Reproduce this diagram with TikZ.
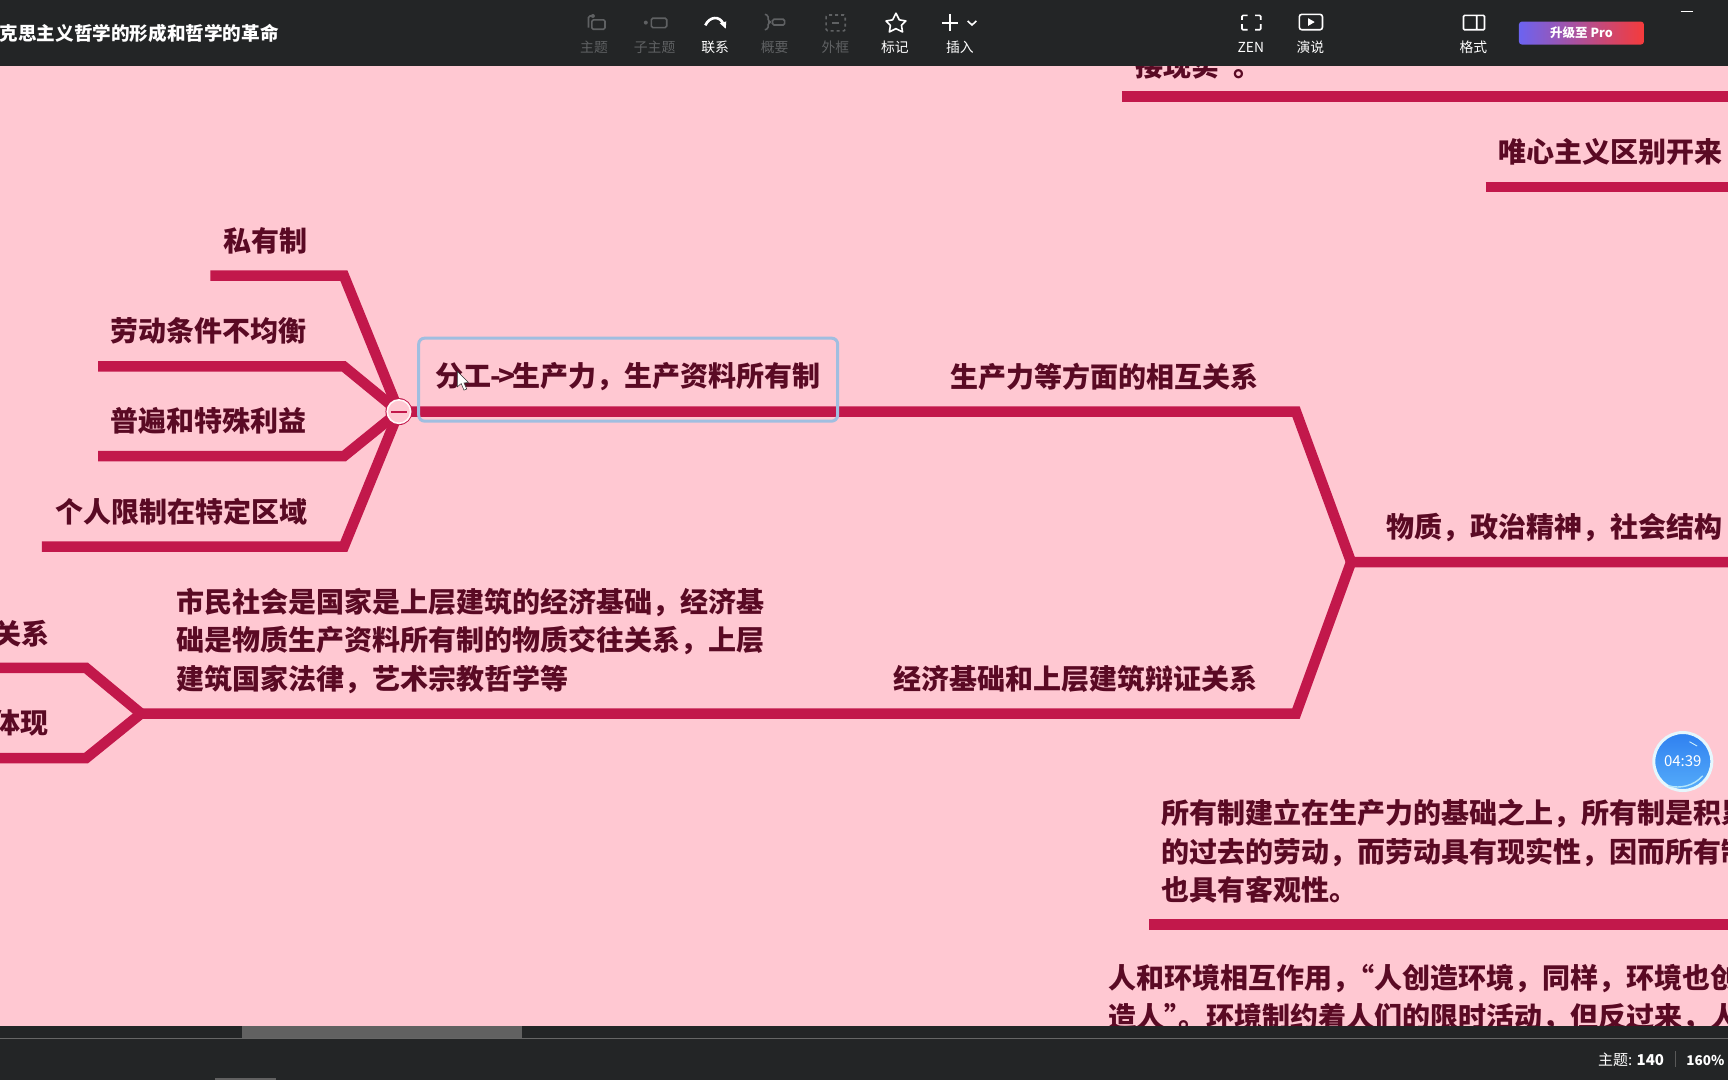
\documentclass[tikz,border=0pt]{standalone}
\usepackage{fontspec}
\setmainfont{Noto Sans CJK SC}
\usepackage{tikz}
\definecolor{bgpink}{HTML}{FFC8D2}
\definecolor{barblack}{HTML}{232526}
\definecolor{branchred}{HTML}{C2184B}
\definecolor{topicdark}{HTML}{5A0A24}
\definecolor{selblue}{HTML}{A0BEE0}
\definecolor{toolgray}{HTML}{5F6163}
\definecolor{timertop}{HTML}{2F80F0}
\definecolor{timerlow}{HTML}{55ACFA}
\definecolor{proleft}{HTML}{6C63F0}
\definecolor{proright}{HTML}{F53B3B}
\begin{document}
\begin{tikzpicture} [x=1.10204pt,y=-1.10204pt]
\tikzstyle{topic}=[inner sep=0pt,anchor=west,align=left,yshift=-.7pt,text=topicdark,font=\fontsize{28}{38.6}\selectfont\bfseries]
\tikzstyle{branch}=[line width=10.5pt,draw=branchred,line join=miter,miter limit=10]
\tikzstyle{toollabel}=[inner sep=0pt,text=white,font=\fontsize{13.8}{16}\selectfont]
\tikzstyle{toolicon}=[line width=1.6pt,draw=white]
\tikzstyle{dimicon}=[line width=1.6pt,draw=toolgray,rounded corners=1.5pt]
\useasboundingbox (0,0) rectangle (1568,980);
\clip (0,0) rectangle (1568,980);
\fill [bgpink] (0,0) rectangle (1568,980);
% junctions
\coordinate (hubA) at (362,373.5);
\coordinate (hubB) at (128,647.5);
\coordinate (hubC) at (1226,510);
\coordinate (bendA) at (1176,373.5);
\coordinate (bendB) at (1176,647.5);
\coordinate (rightA) at (1575,510);
\coordinate (topA) at (1018,87.5);
\coordinate (topB) at (1575,87.5);
\coordinate (secA) at (1348,169.5);
\coordinate (secB) at (1575,169.5);
\coordinate (ownA) at (1043,839);
\coordinate (ownB) at (1575,839);
% left leaves
\coordinate (priv0) at (191,250);
\coordinate (priv1) at (312,250);
\coordinate (cond0) at (89,332.5);
\coordinate (cond1) at (312,332.5);
\coordinate (gene0) at (89,414);
\coordinate (gene1) at (312,414);
\coordinate (pers0) at (38,496);
\coordinate (pers1) at (312,496);
\coordinate (lowA0) at (-10,606);
\coordinate (lowA1) at (78,606);
\coordinate (lowB0) at (-10,688);
\coordinate (lowB1) at (78,688);
\draw [branch] (topA) -- (topB);
\draw [branch] (secA) -- (secB);
\draw [branch] (ownA) -- (ownB);
\draw [branch] (priv0) -- (priv1) -- (hubA);
\draw [branch] (cond0) -- (cond1) -- (hubA);
\draw [branch] (gene0) -- (gene1) -- (hubA);
\draw [branch] (pers0) -- (pers1) -- (hubA);
\draw [branch] (hubA) -- (bendA) -- (hubC) -- (rightA);
\draw [branch] (hubB) -- (bendB) -- (hubC);
\draw [branch] (lowA0) -- (lowA1) -- (hubB);
\draw [branch] (lowB0) -- (lowB1) -- (hubB);
% labels
\node at(1030,59) (realT) [topic]{接现实”\kern-14pt。};
\node at(1360,137) (idealT) [topic]{唯心主义区别开来};
\node at(203,218) (privT) [topic]{私有制};
\node at(100,300) (condT) [topic]{劳动条件不均衡};
\node at(100,381) (geneT) [topic]{普遍和特殊利益};
\node at(50,464) (persT) [topic]{个人限制在特定区域};
\node at(395,341) (laborT) [topic]{分工\kern-1pt-\kern-2.5pt>\kern-3pt 生产力，生产资料所有制};
\node at(862,341) (prodT) [topic]{生产力等方面的相互关系};
\node at(1258,478) (matT) [topic]{物质，政治精神，社会结构};
\node at(811,615) (baseT) [topic]{经济基础和上层建筑辩证关系};
\node at(160,581) (civT) [topic]{市民社会是国家是上层建筑的经济基础，经济基\\础是物质生产资料所有制的物质交往关系，上层\\建筑国家法律，艺术宗教哲学等};
\node at(-6,574) (relT) [topic]{关系};
\node at(-7,655) (bodyT) [topic]{体现};
\node at(1054,772) (ownT) [topic]{所有制建立在生产力的基础之上，所有制是积累\\的过去的劳动，而劳动具有现实性，因而所有制\\也具有客观性。};
\node at(1006,905) (envT) [topic]{人和环境相互作用，\kern-14pt“人创造环境，同样，环境也创\\造人”\kern-14pt。环境制约着人们的限时活动，但反过来，人};
% selection frame, collapse mark, cursor
\node at(570,344.5) (selBox) [draw=selblue,line width=3pt,rounded corners=6pt,minimum width=419pt,minimum height=83pt,inner sep=0pt]{};
\node at(362,373.5) (collapseO) [circle,fill=branchred,minimum size=27pt,inner sep=0pt]{};
\node at(362,373.5) (collapse) [circle,fill=bgpink,draw=white!85!bgpink,line width=1.6pt,minimum size=23.5pt,inner sep=0pt]{};
\draw [branchred,line width=1.8pt] (355,373.5) -- (369,373.5);
\filldraw [fill=white,draw=black!80,line width=.5pt] (415,337) -- (415,351) -- (418.5,348) -- (421,354) -- (423.5,353) -- (421,347.5) -- (425,347) -- cycle;
% timer
\node at(1527,691) (timer) [circle,draw=white!90!cyan,line width=3pt,top color=timertop,bottom color=timerlow,minimum size=58pt,inner sep=0pt,text=white,font=\fontsize{15}{18}\selectfont]{04:39};
\draw [white!80!cyan,line width=.9pt] (1533,673) -- (1540,677);
\draw [white!70!cyan,line width=1.4pt] (1514,713) .. controls (1525,716) and (1537,713) .. (1545,704);
% bars
\fill [barblack] (0,0) rectangle (1568,59.5);
\fill [barblack] (0,931) rectangle (1568,980);
\fill [black!62] (220,931) rectangle (474,942);
\draw [black!60,line width=.7pt] (0,942) -- (1568,942);
\fill [black!62] (195,978) rectangle (250,980);
\node at(253,30) (title) [inner sep=0pt,anchor=east,text=white,font=\fontsize{18.6}{22}\selectfont\bfseries]{克思主义哲学的形成和哲学的革命};
% toolbar
\node at(539,43) (tMain) [toollabel,text=toolgray]{主题};
\node at(594,43) (tSub) [toollabel,text=toolgray]{子主题};
\node at(649,43) (tLink) [toollabel]{联系};
\node at(703,43) (tSum) [toollabel,text=toolgray]{概要};
\node at(758,43) (tFrame) [toollabel,text=toolgray]{外框};
\node at(812,43) (tMark) [toollabel]{标记};
\node at(871,43) (tIns) [toollabel]{插入};
\node at(1135,43) (tZen) [toollabel]{ZEN};
\node at(1189,43) (tShow) [toollabel]{演说};
\node at(1337,43) (tFmt) [toollabel]{格式};
% toolbar icons
\draw [dimicon] (538,14.5) -- (534,14.5) -- (534,25);
\fill [toolgray] (538,14.5) circle (2pt);
\draw [dimicon] (537,18) rectangle (549,26.5);
\fill [toolgray] (586,20.5) circle (2pt);
\draw [dimicon] (591,16.6) rectangle (605,25);
\draw [toolicon,line width=2.6pt] (640,23) .. controls (644,14.5) and (653,14.5) .. (656,21);
\fill [white] (653,21) -- (659,19.5) -- (658.5,26) -- cycle;
\draw [dimicon] (694,13) -- (697,14) -- (697,19) -- (699,20) -- (697,21) -- (697,26) -- (694,27);
\draw [dimicon] (701,17.5) rectangle (712,22.7);
\draw [dimicon,dashed] (749.6,13.6) rectangle (767,28);
\draw [toolicon,draw=toolgray] (755,20.6) -- (761,20.6);
\draw [toolicon,line join=round] (813,12) -- (816,18) -- (822,19) -- (818,23) -- (819,29) -- (813,26) -- (807,29) -- (808,23) -- (804,19) -- (810,18) -- cycle;
\draw [toolicon,line width=2pt] (854.6,20.5) -- (869.6,20.5) (862,12.7) -- (862,28);
\draw [toolicon] (878,19) -- (882,22.7) -- (886,19);
\draw [toolicon,rounded corners=1pt] (1127,18) -- (1127,14) -- (1132,14) (1139,14) -- (1144,14) -- (1144,18) (1144,22) -- (1144,27) -- (1139,27) (1132,27) -- (1127,27) -- (1127,22);
\draw [toolicon,rounded corners=2.5pt] (1179,13) rectangle (1200,27);
\fill [white] (1187,16.5) -- (1187,23.5) -- (1193,20) -- cycle;
\draw [toolicon,rounded corners=1pt] (1328,14) rectangle (1347,27) (1340,14) -- (1340,27);
\node at(1435,30) (pro) [rounded corners=3pt,left color=proleft,right color=proright,minimum width=125pt,minimum height=23pt,inner sep=0pt,text=white,font=\fontsize{12.5}{15}\selectfont\bfseries]{升级至 Pro};
\draw [white,line width=.9pt] (1525,10) -- (1536,10);
% status bar
\node at(1480,962) (count) [inner sep=0pt,text=white,font=\fontsize{15}{17}\selectfont]{主题: \textbf{140}};
\node at(1547.5,962) (zoomT) [inner sep=0pt,text=white,font=\fontsize{13.5}{16}\selectfont\bfseries]{160\%};
\draw [black!65,line width=.7pt] (1520,954) -- (1520,968);
\end{tikzpicture}
\end{document}
